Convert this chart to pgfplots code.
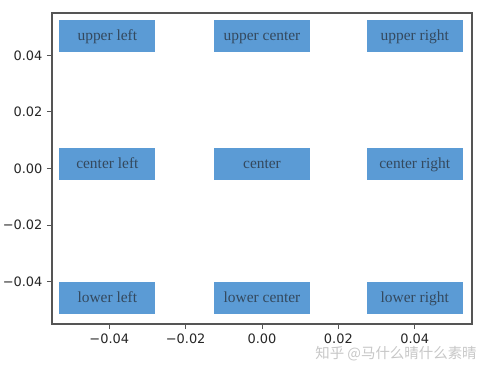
\documentclass[border=0pt]{standalone}
\usepackage{pgfplots}
\pgfplotsset{compat=1.18}
\usepackage{fontspec}
\setmainfont{Liberation Serif}
\newfontfamily\tickfont{DejaVu Sans}
\newfontfamily\cjk{Noto Sans CJK SC}
\definecolor{boxblue}{HTML}{5B9BD5}
\definecolor{txtc}{HTML}{34495E}
\definecolor{spine}{HTML}{555555}
\begin{document}
\begin{tikzpicture}
\begin{axis}[
  at={(0,0)}, anchor=south west,
  scale only axis, width=420bp, height=311bp,
  xmin=-0.055, xmax=0.055, ymin=-0.055, ymax=0.055,
  scaled ticks=false,
  xtick={-0.04,-0.02,0,0.02,0.04},
  xticklabels={−0.04,−0.02,0.00,0.02,0.04},
  ytick={-0.04,-0.02,0,0.02,0.04},
  yticklabels={−0.04,−0.02,0.00,0.02,0.04},
  tick label style={font=\tickfont\fontsize{13}{15}\selectfont, text=black!85},
  xtick pos=bottom, ytick pos=left,
  tick align=outside, major tick length=5bp,
  axis line style={spine, line width=1.2pt},
  every tick/.style={spine, line width=1pt},
  xticklabel style={yshift=-1bp},
  yticklabel style={xshift=-1bp},
  clip=false,
]
\tikzset{lbl/.style={fill=boxblue, text=txtc, minimum width=96bp, minimum height=32bp, inner sep=0pt, text height=12bp, text depth=2bp, font=\fontsize{15.5}{18}\selectfont}}
\node[lbl] at (axis cs:-0.0405,0.0469) {upper left};
\node[lbl] at (axis cs:0,0.0469) {upper center};
\node[lbl] at (axis cs:0.040,0.0469) {upper right};
\node[lbl] at (axis cs:-0.0405,0.0016) {center left};
\node[lbl] at (axis cs:0,0.0016) {center};
\node[lbl] at (axis cs:0.040,0.0016) {center right};
\node[lbl] at (axis cs:-0.0405,-0.0458) {lower left};
\node[lbl] at (axis cs:0,-0.0458) {lower center};
\node[lbl] at (axis cs:0.040,-0.0458) {lower right};
\end{axis}
\node[text=black!22, font=\cjk\fontsize{14.5}{17}\selectfont, inner sep=0pt] at (344bp,-30bp) {知乎 @马什么晴什么素晴};
\pgfresetboundingbox
\path[use as bounding box] (-52bp,-51bp) rectangle (436bp,324bp);
\end{tikzpicture}
\end{document}
